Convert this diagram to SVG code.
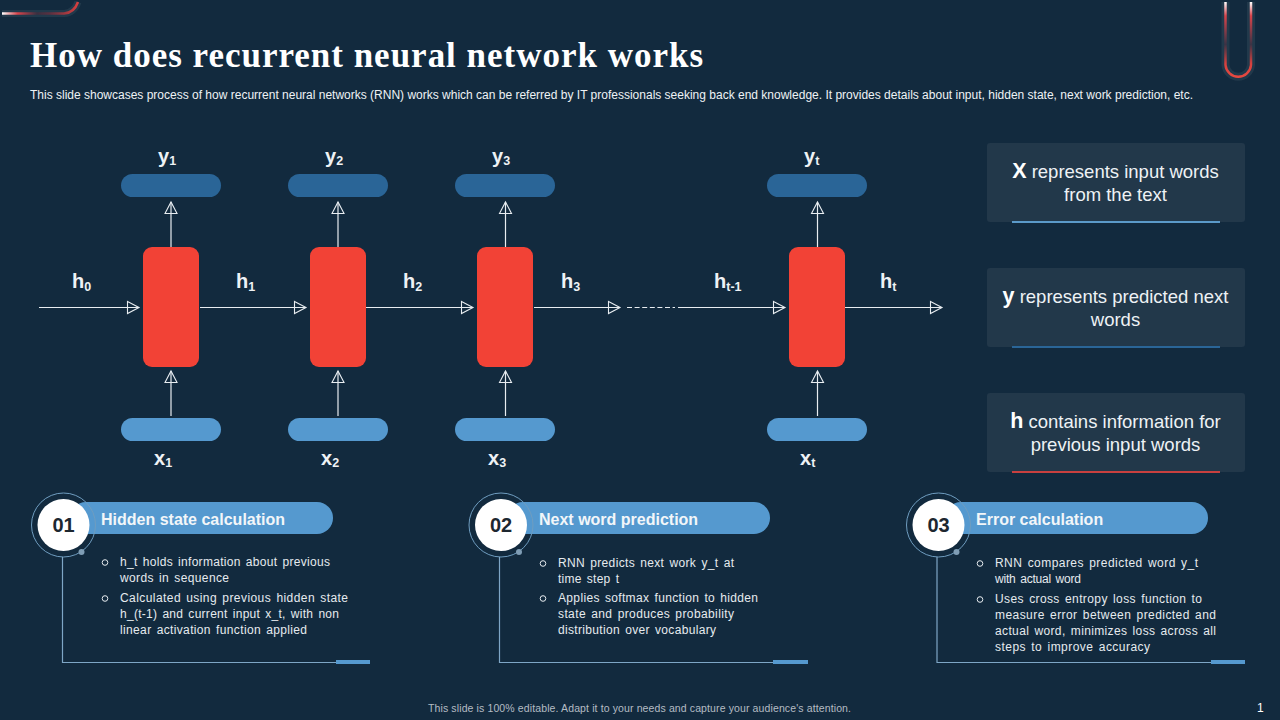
<svg xmlns="http://www.w3.org/2000/svg" width="1280" height="720" viewBox="0 0 1280 720">
<style>
text{font-family:"Liberation Sans",Arial,sans-serif;fill:#fff}
.title{font-family:"Liberation Serif","Times New Roman",serif;font-weight:700;font-size:35px}
.sub{font-size:12px;fill:#eef2f5}
.foot{font-size:10.5px;fill:#b4bcc4}
.cell{fill:#f24236}
.yb{fill:#2a6597}
.xb{fill:#5599cf}
.lab{font-weight:700;font-size:20px;fill:#eef2f5}
.lab tspan{font-size:12.5px}
.card{fill:#22384a}
.ct{font-size:18.5px;text-anchor:middle;fill:#eef2f5}
.ct tspan{font-weight:700;font-size:21.5px;fill:#fff}
.conn{stroke:#e8edf1;stroke-width:1.2;fill:none;marker-end:url(#hollow)}
.ring{fill:none;stroke:#6f9dc0;stroke-width:1}
.num{fill:#fff}
.nt{font-weight:700;font-size:20px;text-anchor:middle;fill:#1d2730}
.pt{font-weight:700;font-size:16px;fill:#f2f6f9}
.body{font-size:12px;fill:#e6ebef;word-spacing:1.5px}
.bul{fill:none;stroke:#e6ebef;stroke-width:1}
.rule{fill:none;stroke:#7ea6c6;stroke-width:1.2}
</style>
<defs>
<marker id="hollow" markerUnits="userSpaceOnUse" markerWidth="15" markerHeight="15" refX="13" refY="7.500" orient="auto">
<path d="M1.500 1.500 L13 7.500 L1.500 13.500 Z" fill="none" stroke="#e8edf1" stroke-width="1.100"/>
</marker>
<linearGradient id="gl" gradientUnits="userSpaceOnUse" x1="2" y1="0" x2="80" y2="0">
<stop offset="0" stop-color="#fff"/><stop offset=".2" stop-color="#d9434a"/><stop offset=".45" stop-color="#3a2f40"/><stop offset=".62" stop-color="#5b3040"/><stop offset="1" stop-color="#e0403f"/>
</linearGradient>
<linearGradient id="gu" gradientUnits="userSpaceOnUse" x1="0" y1="2" x2="0" y2="79">
<stop offset="0" stop-color="#fff"/><stop offset=".18" stop-color="#d9434a"/><stop offset=".55" stop-color="#3b3345"/><stop offset=".8" stop-color="#d5413f"/><stop offset="1" stop-color="#ea4a40"/>
</linearGradient>
</defs>
<rect width="1280" height="720" fill="#122a3e"/>
<g id="decor">
<path d="M2 13.500H64Q74 13 78 2" fill="none" stroke="#3a5060" stroke-width="7" opacity=".4"/>
<path d="M2 13.500H64Q74 13 78 2" fill="none" stroke="url(#gl)" stroke-width="2.500"/>
<path d="M1225.500 2V65A12.800 13 0 0 0 1251 65V2" fill="none" stroke="#3a5060" stroke-width="8" opacity=".4"/>
<path d="M1225.500 2V65A12.800 13 0 0 0 1251 65V2" fill="none" stroke="url(#gu)" stroke-width="2.500"/>
</g>
<g id="header">
<text class="title" x="30" y="67" textLength="673" lengthAdjust="spacing">How does recurrent neural network works</text>
<text class="sub" x="30" y="99" textLength="1163" lengthAdjust="spacing">This slide showcases process of how recurrent neural networks (RNN) works which can be referred by IT professionals seeking back end knowledge. It provides details about input, hidden state, next work prediction, etc.</text>
</g>
<g id="connectors">
<path class="conn" d="M39 307.500H139"/>
<path class="conn" d="M200 307.500H306"/>
<path class="conn" d="M366 307.500H473"/>
<path class="conn" d="M534 307.500H620"/>
<path d="M627 307.500H675" fill="none" stroke="#e8edf1" stroke-width="1.200" stroke-dasharray="5 2.600"/>
<path class="conn" d="M678 307.500H785"/>
<path class="conn" d="M845 307.500H942"/>
<path class="conn" d="M171 247V202"/><path class="conn" d="M171 416V371"/>
<path class="conn" d="M338 247V202"/><path class="conn" d="M338 416V371"/>
<path class="conn" d="M505.500 247V202"/><path class="conn" d="M505.500 416V371"/>
<path class="conn" d="M817.500 247V202"/><path class="conn" d="M817.500 416V371"/>
</g>
<g id="col1">
<rect class="yb" x="121" y="174" width="100" height="23" rx="11.500"/><rect class="cell" x="143" y="247" width="56" height="120" rx="9"/><rect class="xb" x="121" y="418" width="100" height="23" rx="11.500"/>
<text class="lab" x="158" y="163">y<tspan dy="2">1</tspan></text><text class="lab" x="154" y="465">x<tspan dy="2">1</tspan></text>
</g>
<g id="col2">
<rect class="yb" x="288" y="174" width="100" height="23" rx="11.500"/><rect class="cell" x="310" y="247" width="56" height="120" rx="9"/><rect class="xb" x="288" y="418" width="100" height="23" rx="11.500"/>
<text class="lab" x="325" y="163">y<tspan dy="2">2</tspan></text><text class="lab" x="321" y="465">x<tspan dy="2">2</tspan></text>
</g>
<g id="col3">
<rect class="yb" x="455" y="174" width="100" height="23" rx="11.500"/><rect class="cell" x="477" y="247" width="56" height="120" rx="9"/><rect class="xb" x="455" y="418" width="100" height="23" rx="11.500"/>
<text class="lab" x="492" y="163">y<tspan dy="2">3</tspan></text><text class="lab" x="488" y="465">x<tspan dy="2">3</tspan></text>
</g>
<g id="colt">
<rect class="yb" x="767" y="174" width="100" height="23" rx="11.500"/><rect class="cell" x="789" y="247" width="56" height="120" rx="9"/><rect class="xb" x="767" y="418" width="100" height="23" rx="11.500"/>
<text class="lab" x="804" y="163">y<tspan dy="2">t</tspan></text><text class="lab" x="800" y="465">x<tspan dy="2">t</tspan></text>
</g>
<g id="h-labels">
<text class="lab" x="72" y="288">h<tspan dy="3">0</tspan></text>
<text class="lab" x="236" y="288">h<tspan dy="3">1</tspan></text>
<text class="lab" x="403" y="288">h<tspan dy="3">2</tspan></text>
<text class="lab" x="561" y="288">h<tspan dy="3">3</tspan></text>
<text class="lab" x="714" y="288">h<tspan dy="3">t-1</tspan></text>
<text class="lab" x="880" y="288">h<tspan dy="3">t</tspan></text>
</g>
<g id="card-x">
<rect class="card" x="987" y="143" width="258" height="79" rx="3"/><path d="M1012 222H1220" stroke="#5b9ac9" stroke-width="2"/>
<text class="ct" x="1115.500" y="178"><tspan>X</tspan> represents input words</text><text class="ct" x="1115.500" y="201">from the text</text>
</g>
<g id="card-y">
<rect class="card" x="987" y="268" width="258" height="79" rx="3"/><path d="M1012 347H1220" stroke="#2a6597" stroke-width="2"/>
<text class="ct" x="1115.500" y="303"><tspan>y</tspan> represents predicted next</text><text class="ct" x="1115.500" y="326">words</text>
</g>
<g id="card-h">
<rect class="card" x="987" y="393" width="258" height="79" rx="3"/><path d="M1012 472H1220" stroke="#c8403f" stroke-width="2"/>
<text class="ct" x="1115.500" y="428"><tspan>h</tspan> contains information for</text><text class="ct" x="1115.500" y="451">previous input words</text>
</g>
<g id="step1">
<rect class="xb" x="70" y="502" width="263" height="32" rx="16"/>
<circle cx="63.500" cy="525" r="32" class="ring"/>
<circle class="num" cx="63.500" cy="525" r="26"/><circle cx="81.500" cy="552" r="3" fill="#7f9db5"/>
<text class="nt" x="63.500" y="532">01</text>
<text class="pt" x="101" y="525">Hidden state calculation</text>
<path class="rule" d="M62.500 557V662.500H336"/><rect class="xb" x="336" y="660" width="34" height="4"/>
<circle class="bul" cx="105" cy="562.500" r="2.800"/><circle class="bul" cx="105" cy="598.500" r="2.800"/>
<text class="body" x="120" y="566" textLength="210" lengthAdjust="spacing">h_t holds information  about previous</text>
<text class="body" x="120" y="582" textLength="109" lengthAdjust="spacing">words in sequence</text>
<text class="body" x="120" y="602" textLength="228" lengthAdjust="spacing">Calculated using previous hidden state</text>
<text class="body" x="120" y="618" textLength="219" lengthAdjust="spacing">h_(t-1) and current input x_t, with non</text>
<text class="body" x="120" y="634" textLength="187" lengthAdjust="spacing">linear activation function applied</text>
</g>
<g id="step2">
<rect class="xb" x="507" y="502" width="263" height="32" rx="16"/>
<circle cx="501" cy="525" r="32" class="ring"/>
<circle class="num" cx="501" cy="525" r="26"/><circle cx="519" cy="552" r="3" fill="#7f9db5"/>
<text class="nt" x="501" y="532">02</text>
<text class="pt" x="539" y="525">Next word prediction</text>
<path class="rule" d="M499.500 557V662.500H773"/><rect class="xb" x="773" y="660" width="35" height="4"/>
<circle class="bul" cx="543" cy="563.500" r="2.800"/><circle class="bul" cx="543" cy="598.500" r="2.800"/>
<text class="body" x="558" y="567" textLength="176" lengthAdjust="spacing">RNN predicts next work y_t at</text>
<text class="body" x="558" y="583" textLength="61" lengthAdjust="spacing">time step t</text>
<text class="body" x="558" y="602" textLength="200" lengthAdjust="spacing">Applies softmax function to hidden</text>
<text class="body" x="558" y="618" textLength="176" lengthAdjust="spacing">state and produces probability</text>
<text class="body" x="558" y="634" textLength="158" lengthAdjust="spacing">distribution over vocabulary</text>
</g>
<g id="step3">
<rect class="xb" x="945" y="502" width="263" height="32" rx="16"/>
<circle cx="938.500" cy="525" r="32" class="ring"/>
<circle class="num" cx="938.500" cy="525" r="26"/><circle cx="956.500" cy="552" r="3" fill="#7f9db5"/>
<text class="nt" x="938.500" y="532">03</text>
<text class="pt" x="976" y="525">Error calculation</text>
<path class="rule" d="M937 557V662.500H1211"/><rect class="xb" x="1211" y="660" width="34" height="4"/>
<circle class="bul" cx="980" cy="563.500" r="2.800"/><circle class="bul" cx="980" cy="599.500" r="2.800"/>
<text class="body" x="995" y="567" textLength="203" lengthAdjust="spacing">RNN compares predicted word y_t</text>
<text class="body" x="995" y="583" textLength="86" lengthAdjust="spacing">with actual word</text>
<text class="body" x="995" y="603" textLength="207" lengthAdjust="spacing">Uses cross entropy loss function to</text>
<text class="body" x="995" y="619" textLength="221" lengthAdjust="spacing">measure error between predicted and</text>
<text class="body" x="995" y="635" textLength="221" lengthAdjust="spacing">actual word, minimizes loss across all</text>
<text class="body" x="995" y="651" textLength="155" lengthAdjust="spacing">steps to improve  accuracy</text>
</g>
<g id="footer">
<text class="foot" x="428" y="712" textLength="423" lengthAdjust="spacing">This slide is 100% editable.  Adapt it to your needs and capture your audience's attention.</text>
<text x="1257" y="712" style="font-size:12px">1</text>
</g>
</svg>
